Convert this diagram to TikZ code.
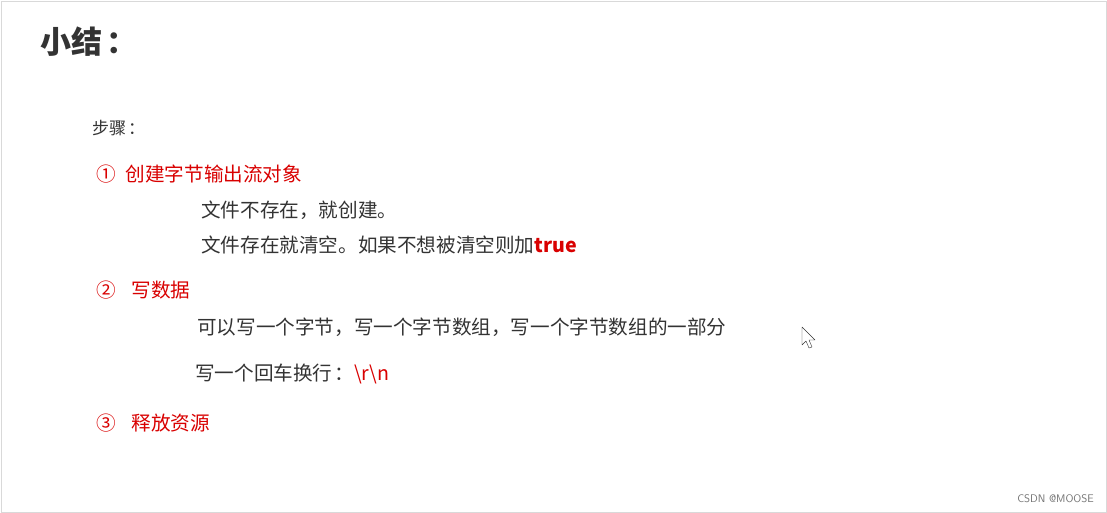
\documentclass[tikz,border=0pt]{standalone}
\usepackage{fontspec}
\newfontfamily\cjk{Noto Sans CJK SC}
\begin{document}
\begin{tikzpicture}[x=1pt,y=-1pt,
  txt/.style={anchor=west,inner sep=0pt,font=\cjk\fontsize{19.6}{21}\selectfont,text=black!80},
  red/.style={txt,text=red!85!black}]
\useasboundingbox (0,0) rectangle (1107,513);
\fill[white] (0,0) rectangle (1107,513);
\draw[black!15] (1,1) rectangle (1106,512);
\node[txt,font=\cjk\bfseries\fontsize{31}{33}\selectfont,text=black!80] (title) at (40,42) {小结\hspace{4pt}：};
\node[txt,font=\cjk\fontsize{17}{19}\selectfont] (steps) at (92,128) {步骤\hspace{2pt}：};
\node[red] (s1) at (96,174) {①\hspace{10pt}创建字节输出流对象};
\node[txt] (l1) at (201,210) {文件不存在，就创建。};
\node[txt] (l2) at (201,245) {文件存在就清空。如果不想被清空则加\textcolor{red!85!black}{\bfseries true}};
\node[red] (s2) at (96,290) {②\hspace{16pt}写数据};
\node[txt] (l3) at (197,327) {可以写一个字节，写一个字节数组，写一个字节数组的一部分};
\node[txt] (l4) at (195,374) {写一个回车换行\hspace{2pt}：\textcolor{red!85!black}{\textbackslash r\textbackslash n}};
\node[red] (s3) at (96,423) {③\hspace{16pt}释放资源};
\node[anchor=east,inner sep=0pt,font=\sffamily\fontsize{11}{12}\selectfont,text=black!55] (wm) at (1094,499) {CSDN @MOOSE};
\draw[black!80,fill=white,line join=round] (802,327) -- (802,345) -- (806,341) -- (809,348) -- (812,347) -- (809,340) -- (815,340) -- cycle;
\end{tikzpicture}
\end{document}
